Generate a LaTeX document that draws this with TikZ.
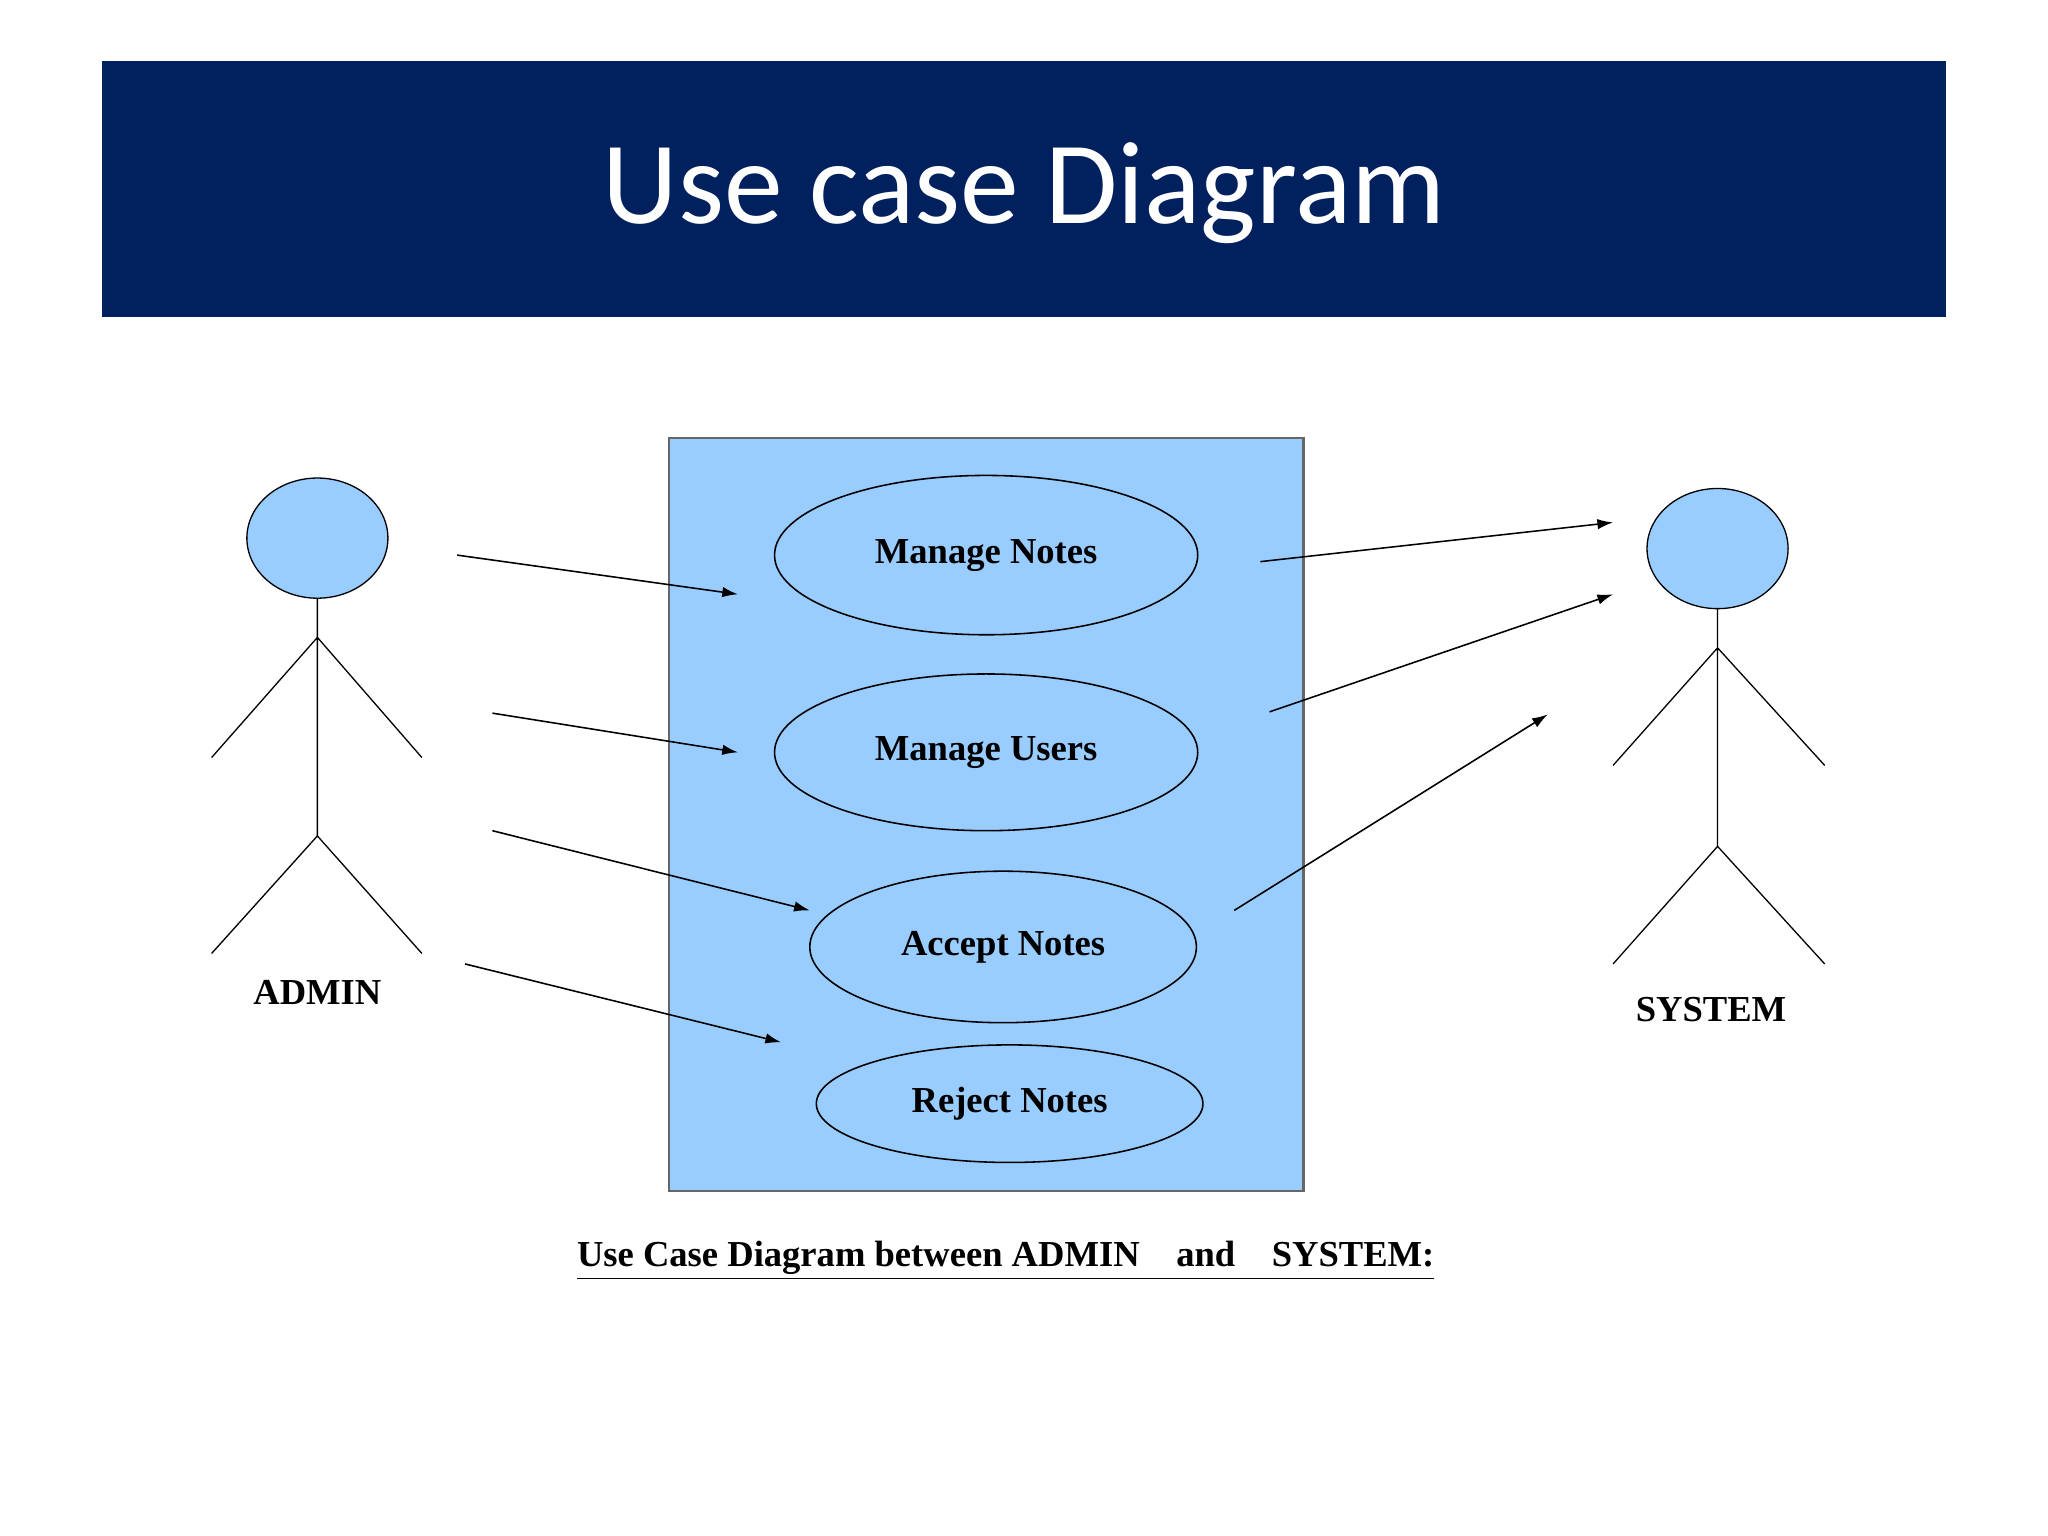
\documentclass[tikz,border=0pt]{standalone}
\usepackage{fontspec}
\setmainfont{Liberation Serif}
\newfontfamily\titlefont{Carlito}
\usetikzlibrary{arrows.meta,shapes.geometric}
\definecolor{navy}{RGB}{0,32,94}
\definecolor{lblue}{RGB}{153,204,255}
\begin{document}
\begin{tikzpicture}[x=0.5pt,y=-0.5pt,
  uc/.style={draw,ellipse,inner sep=0pt,fill=lblue,line width=0.6pt,font=\bfseries\fontsize{14}{16}\selectfont},
  stick/.style={line width=0.5pt},
  arr/.style={-{Latex[length=6pt,width=4pt]},line width=0.6pt},
  lab/.style={font=\bfseries\fontsize{14}{16}\selectfont}]
\useasboundingbox (0,0) rectangle (1568,1176);
\fill[white] (0,0) rectangle (1568,1176);
\fill[navy] (78,47) rectangle (1490,243);
\node[text=white,font=\titlefont\fontsize{45}{50}\selectfont] (title) at (784,148) {Use case Diagram};
\draw[fill=lblue,draw=gray!80!black,line width=0.8pt] (512,335) rectangle (998,912);
\node[uc,minimum width=162pt,minimum height=61pt] (mn) at (755,425) {Manage Notes};
\node[uc,minimum width=162pt,minimum height=60pt] (mu) at (755,576) {Manage Users};
\node[uc,minimum width=148pt,minimum height=58pt] (an) at (768,725) {Accept Notes};
\node[uc,minimum width=148pt,minimum height=45pt] (rn) at (773,845) {Reject Notes};
% admin
\draw[stick,fill=lblue] (243,412) ellipse [x radius=54, y radius=46];
\draw[stick] (243,458) -- (243,640) (162,580) -- (243,488) -- (323,580) (162,730) -- (243,640) -- (323,730);
\node[lab] (admin) at (243,760) {ADMIN};
% system
\draw[stick,fill=lblue] (1315,420) ellipse [x radius=54, y radius=46];
\draw[stick] (1315,466) -- (1315,648) (1235,586) -- (1315,496) -- (1397,586) (1235,738) -- (1315,648) -- (1397,738);
\node[lab] (system) at (1310,773) {SYSTEM};
% arrows
\coordinate (a1) at (350,425); \coordinate (b1) at (565,455);
\coordinate (a2) at (377,546); \coordinate (b2) at (565,576);
\coordinate (a3) at (377,636); \coordinate (b3) at (620,697);
\coordinate (a4) at (356,738); \coordinate (b4) at (598,798);
\coordinate (c1) at (965,430); \coordinate (d1) at (1235,400);
\coordinate (c2) at (972,545); \coordinate (d2) at (1235,455);
\coordinate (c3) at (945,697); \coordinate (d3) at (1185,547);
\foreach \s/\t in {a1/b1,a2/b2,a3/b3,a4/b4,c1/d1,c2/d2,c3/d3} \draw[arr] (\s) -- (\t);
\node[lab] (cap) at (770,965) {\underline{Use Case Diagram between ADMIN\quad and\quad SYSTEM:}};
\end{tikzpicture}
\end{document}
